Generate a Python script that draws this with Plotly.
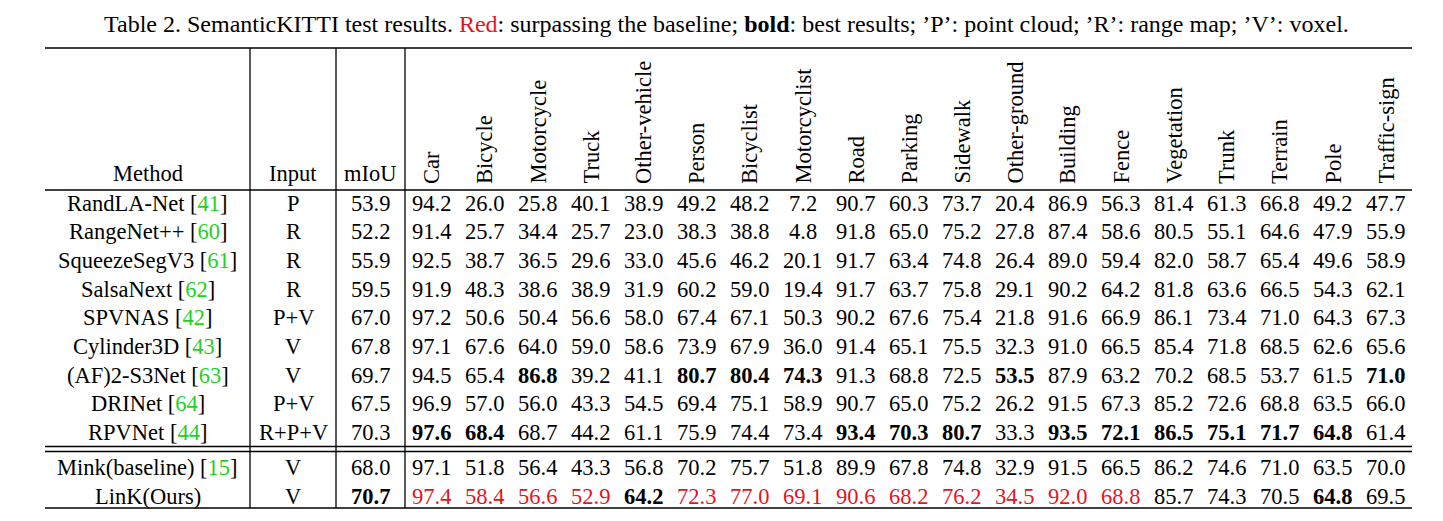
import plotly.graph_objects as go

classes = ["Car","Bicycle","Motorcycle","Truck","Other-vehicle","Person","Bicyclist","Motorcyclist",
           "Road","Parking","Sidewalk","Other-ground","Building","Fence","Vegetation","Trunk","Terrain","Pole","Traffic-sign"]
methods = ["RandLA-Net","RangeNet++","SqueezeSegV3","SalsaNext","SPVNAS","Cylinder3D","(AF)2-S3Net","DRINet","RPVNet","Mink(baseline)","LinK(Ours)"]
refs = ["41","60","61","62","42","43","63","64","44","15",""]
inputs = ["P","R","R","R","P+V","V","V","P+V","R+P+V","V","V"]
miou = [53.9,52.2,55.9,59.5,67.0,67.8,69.7,67.5,70.3,68.0,70.7]
scores = [
 [94.2,26.0,25.8,40.1,38.9,49.2,48.2,7.2,90.7,60.3,73.7,20.4,86.9,56.3,81.4,61.3,66.8,49.2,47.7],
 [91.4,25.7,34.4,25.7,23.0,38.3,38.8,4.8,91.8,65.0,75.2,27.8,87.4,58.6,80.5,55.1,64.6,47.9,55.9],
 [92.5,38.7,36.5,29.6,33.0,45.6,46.2,20.1,91.7,63.4,74.8,26.4,89.0,59.4,82.0,58.7,65.4,49.6,58.9],
 [91.9,48.3,38.6,38.9,31.9,60.2,59.0,19.4,91.7,63.7,75.8,29.1,90.2,64.2,81.8,63.6,66.5,54.3,62.1],
 [97.2,50.6,50.4,56.6,58.0,67.4,67.1,50.3,90.2,67.6,75.4,21.8,91.6,66.9,86.1,73.4,71.0,64.3,67.3],
 [97.1,67.6,64.0,59.0,58.6,73.9,67.9,36.0,91.4,65.1,75.5,32.3,91.0,66.5,85.4,71.8,68.5,62.6,65.6],
 [94.5,65.4,86.8,39.2,41.1,80.7,80.4,74.3,91.3,68.8,72.5,53.5,87.9,63.2,70.2,68.5,53.7,61.5,71.0],
 [96.9,57.0,56.0,43.3,54.5,69.4,75.1,58.9,90.7,65.0,75.2,26.2,91.5,67.3,85.2,72.6,68.8,63.5,66.0],
 [97.6,68.4,68.7,44.2,61.1,75.9,74.4,73.4,93.4,70.3,80.7,33.3,93.5,72.1,86.5,75.1,71.7,64.8,61.4],
 [97.1,51.8,56.4,43.3,56.8,70.2,75.7,51.8,89.9,67.8,74.8,32.9,91.5,66.5,86.2,74.6,71.0,63.5,70.0],
 [97.4,58.4,56.6,52.9,64.2,72.3,77.0,69.1,90.6,68.2,76.2,34.5,92.0,68.8,85.7,74.3,70.5,64.8,69.5],
]
styles = [[""]*19 for _ in range(11)]
for c in [2,5,6,7,11,18]: styles[6][c] = "b"
for c in [0,1,8,9,10,12,13,14,15,16,17]: styles[8][c] = "b"
for c in [0,1,2,3,5,6,7,8,9,10,11,12,13]: styles[10][c] = "r"
for c in [4,17]: styles[10][c] = "b"
miou_bold = [False]*10 + [True]

RED = "#e0161e"
GREEN = "#1fd11f"
FONT = "Liberation Serif"

W, H = 1443, 521
OFF = 8  # page body margin
x_left, x_method, x_input, x_miou, x_right = 45, 250, 336, 405, 1412
y_top, y_head, y_sep, y_bot = 48, 190, 449, 508
row_h = 28.7
col_w = (x_right - x_miou) / len(classes)

fig = go.Figure()
ann = []
shapes = []
def line(x0, y0, x1, y1, w=1.3):
    shapes.append(dict(type="line", x0=x0, y0=y0, x1=x1, y1=y1, xref="x", yref="y",
                       line=dict(color="black", width=w)))
line(x_left, y_top, x_right, y_top)
line(x_left, y_head, x_right, y_head)
line(x_left, y_sep - 2.5, x_right, y_sep - 2.5)
line(x_left, y_sep + 2.5, x_right, y_sep + 2.5)
line(x_left, y_bot, x_right, y_bot)
for xv in [x_method, x_input, x_miou]:
    line(xv, y_top, xv, y_bot)

def txt(x, y, s, size=22.5, **kw):
    ann.append(dict(x=x, y=y, xref="x", yref="y", text=s, showarrow=False,
                    font=dict(family=FONT, size=size, color="black"), **kw))

txt(726, 24, "Table 2. SemanticKITTI test results. <span style='color:%s'>Red</span>: surpassing the baseline; "
    "<b>bold</b>: best results; ’P’: point cloud; ’R’: range map; ’V’: voxel." % RED, size=24)
txt((x_left+x_method)/2, 173, "Method")
txt((x_method+x_input)/2, 173, "Input")
txt((x_input+x_miou)/2, 173, "mIoU")
for j, c in enumerate(classes):
    cx = x_miou + col_w*(j+0.5)
    txt(cx, 186, c, textangle=-90, yanchor="bottom")

for i, m in enumerate(methods):
    cy = 203 + i*row_h + (6 if i >= 9 else 0)
    name = m + (" [<span style='color:%s'>%s</span>]" % (GREEN, refs[i]) if refs[i] else "")
    txt((x_left+x_method)/2, cy, name)
    txt((x_method+x_input)/2, cy, inputs[i])
    mv = "%.1f" % miou[i]
    txt((x_input+x_miou)/2, cy, "<b>%s</b>" % mv if miou_bold[i] else mv)
    for j, v in enumerate(scores[i]):
        s = "%.1f" % v
        st = styles[i][j]
        if st == "b":
            s = "<b>%s</b>" % s
        elif st == "r":
            s = "<span style='color:%s'>%s</span>" % (RED, s)
        txt(x_miou + col_w*(j+0.5), cy, s)

fig.update_layout(width=W, height=H, margin=dict(l=0, r=0, t=0, b=0),
                  plot_bgcolor="white", paper_bgcolor="white",
                  xaxis=dict(range=[OFF, W+OFF], visible=False, fixedrange=True),
                  yaxis=dict(range=[H+OFF, OFF], visible=False, fixedrange=True),
                  annotations=ann, shapes=shapes, showlegend=False)
fig.write_html("out.html")
